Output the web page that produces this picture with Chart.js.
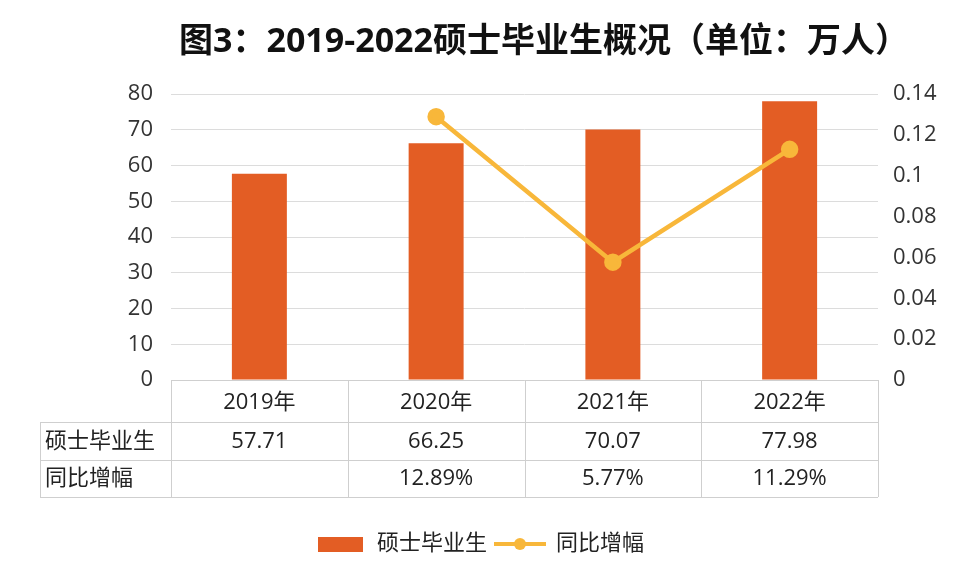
<!DOCTYPE html>
<html>
<head>
<meta charset="utf-8">
<script src="https://cdn.jsdelivr.net/npm/chart.js@4.4.0/dist/chart.umd.min.js"></script>
<style>
html, body { margin: 0; padding: 0; background: #fff; }
#wrap { width: 960px; height: 585px; position: relative; }
</style>
</head>
<body>
<div id="wrap"><canvas id="myChart"></canvas></div>
<script>
// data
const years = ['2019年', '2020年', '2021年', '2022年']
const graduates = [57.71, 66.25, 70.07, 77.98]
const growth = [null, 0.1289, 0.0577, 0.1129]
const graduateText = ['57.71', '66.25', '70.07', '77.98']
const growthText = ['', '12.89%', '5.77%', '11.29%']
const rowNames = ['硕士毕业生', '同比增幅']
const titleText = '图3：2019-2022硕士毕业生概况（单位：万人）'

const BAR = '#E35D24'
const LINE = '#F8B73A'
const FONT = "'Open Sans', 'Noto Sans CJK SC', sans-serif"

Chart.defaults.font.family = FONT
Chart.defaults.color = '#333'

// little pictures for the legend markers
function barIcon(){
    const c = document.createElement('canvas')
    c.width = 45; c.height = 15
    const ctx = c.getContext('2d')
    ctx.fillStyle = BAR
    ctx.fillRect(0, 0, 45, 15)
    return c
}
function lineIcon(){
    const c = document.createElement('canvas')
    c.width = 52; c.height = 14
    const ctx = c.getContext('2d')
    ctx.strokeStyle = LINE
    ctx.lineWidth = 4
    ctx.beginPath(); ctx.moveTo(0, 7); ctx.lineTo(52, 7); ctx.stroke()
    ctx.fillStyle = LINE
    ctx.beginPath(); ctx.arc(26, 7, 6, 0, Math.PI * 2); ctx.fill()
    return c
}

// title + data table under the plot
const tablePlugin = {
    id: 'tablePlugin',
    afterDraw(chart){
        const ctx = chart.ctx
        const area = chart.chartArea
        const x = chart.scales.x
        const n = years.length
        const colW = (x.right - x.left) / n
        const rowTop = [area.bottom, area.bottom + 42, area.bottom + 80]
        const rowBot = area.bottom + 117
        const labelLeft = 40

        ctx.save()
        // title
        ctx.fillStyle = '#111'
        ctx.font = 'bold 34px ' + FONT
        ctx.textAlign = 'center'
        ctx.textBaseline = 'middle'
        ctx.fillText(titleText, 544, 42)

        // grid lines of the table
        ctx.strokeStyle = '#cfcfcf'
        ctx.lineWidth = 1
        ctx.beginPath()
        ctx.moveTo(x.left, rowTop[0] + 0.5); ctx.lineTo(x.right, rowTop[0] + 0.5)
        for (let r = 1; r < 3; r++){
            ctx.moveTo(labelLeft, rowTop[r] + 0.5); ctx.lineTo(x.right, rowTop[r] + 0.5)
        }
        ctx.moveTo(labelLeft, rowBot + 0.5); ctx.lineTo(x.right, rowBot + 0.5)
        ctx.moveTo(labelLeft + 0.5, rowTop[1]); ctx.lineTo(labelLeft + 0.5, rowBot)
        for (let i = 0; i <= n; i++){
            const px = Math.round(x.left + i * colW) + 0.5
            ctx.moveTo(px, rowTop[0]); ctx.lineTo(px, rowBot)
        }
        ctx.stroke()

        // texts
        ctx.fillStyle = '#222'
        ctx.font = '22px ' + FONT
        const mid = [ (rowTop[0] + rowTop[1]) / 2 + 2, (rowTop[1] + rowTop[2]) / 2 + 1, (rowTop[2] + rowBot) / 2 ]
        years.forEach((y, i) => {
            const cx = x.getPixelForValue(i)
            ctx.textAlign = 'center'
            ctx.fillText(y, cx, mid[0])
            ctx.fillText(graduateText[i], cx, mid[1])
            ctx.fillText(growthText[i], cx, mid[2])
        })
        ctx.textAlign = 'left'
        ctx.fillText(rowNames[0], labelLeft + 5, mid[1])
        ctx.fillText(rowNames[1], labelLeft + 5, mid[2])
        ctx.restore()
    }
}

const icons = [barIcon(), lineIcon()]

new Chart(document.getElementById('myChart').getContext('2d'), {
    data: {
        labels: years,
        datasets: [
            {
                type: 'line',
                label: '同比增幅',
                data: growth,
                yAxisID: 'y1',
                borderColor: LINE,
                backgroundColor: LINE,
                borderWidth: 4.5,
                pointRadius: 6.5,
                pointHoverRadius: 6.5,
                spanGaps: false,
                order: 0
            },
            {
                type: 'bar',
                label: '硕士毕业生',
                data: graduates,
                yAxisID: 'y',
                backgroundColor: BAR,
                barPercentage: 0.311,
                categoryPercentage: 1,
                order: 1
            }
        ]
    },
    options: {
        responsive: true,
        maintainAspectRatio: false,
        animation: false,
        layout: { padding: { top: 94, left: 0, right: 0, bottom: 20 } },
        plugins: {
            tooltip: { enabled: false },
            legend: {
                position: 'bottom',
                labels: {
                    usePointStyle: true,
                    pointStyleWidth: 50,
                    padding: 8,
                    color: '#222',
                    font: { size: 22 },
                    generateLabels(chart){
                        // bar first, then line, like the picture
                        return [1, 0].map((di, k) => ({
                            text: chart.data.datasets[di].label,
                            pointStyle: icons[k],
                            fillStyle: 'transparent',
                            strokeStyle: 'transparent',
                            lineWidth: 0,
                            datasetIndex: di,
                            fontColor: '#222'
                        }))
                    }
                }
            }
        },
        scales: {
            x: {
                grid: { display: false },
                border: { display: false },
                ticks: { display: false },
                afterFit(scale){ scale.height = 145 }
            },
            y: {
                position: 'left',
                min: 0, max: 80,
                ticks: { stepSize: 10, padding: 18, font: { size: 22 }, color: '#333' },
                grid: { color: '#dcdcdc', drawTicks: false },
                border: { display: false },
                afterFit(scale){ scale.width = 171 }
            },
            y1: {
                position: 'right',
                min: 0, max: 0.14,
                ticks: { stepSize: 0.02, padding: 15, font: { size: 22 }, color: '#333',
                    callback: v => String(Math.round(v * 100) / 100) },
                grid: { display: false, drawTicks: false },
                border: { display: false },
                afterFit(scale){ scale.width = 82 }
            }
        }
    },
    plugins: [tablePlugin]
})
</script>
</body>
</html>
